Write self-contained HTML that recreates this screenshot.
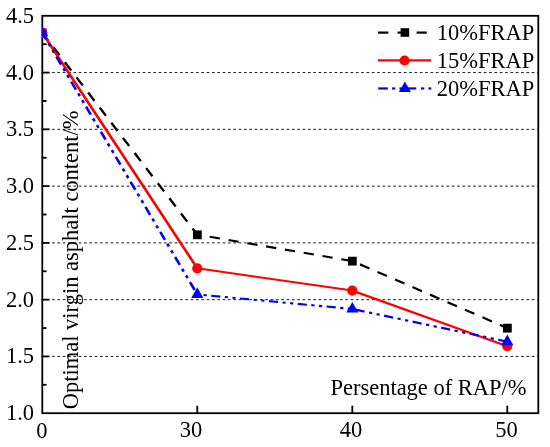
<!DOCTYPE html>
<html lang="en"><head><meta charset="utf-8"><title>Optimal virgin asphalt content</title>
<style>html,body{margin:0;padding:0;background:#fff}body{width:550px;height:447px;overflow:hidden}svg{display:block}text{font-family:"Liberation Serif","Times New Roman",serif;font-size:22.5px;fill:#000}</style></head><body>
<svg width="550" height="447" viewBox="0 0 550 447">
<rect width="550" height="447" fill="#fff"/>
<line x1="41.40" y1="72.57" x2="538.30" y2="72.57" stroke="#1a1a1a" stroke-width="1" stroke-dasharray="2.7 2.63"/>
<line x1="41.40" y1="129.34" x2="538.30" y2="129.34" stroke="#1a1a1a" stroke-width="1" stroke-dasharray="2.7 2.63"/>
<line x1="41.40" y1="186.11" x2="538.30" y2="186.11" stroke="#1a1a1a" stroke-width="1" stroke-dasharray="2.7 2.63"/>
<line x1="41.40" y1="242.89" x2="538.30" y2="242.89" stroke="#1a1a1a" stroke-width="1" stroke-dasharray="2.7 2.63"/>
<line x1="41.40" y1="299.66" x2="538.30" y2="299.66" stroke="#1a1a1a" stroke-width="1" stroke-dasharray="2.7 2.63"/>
<line x1="41.40" y1="356.43" x2="538.30" y2="356.43" stroke="#1a1a1a" stroke-width="1" stroke-dasharray="2.7 2.63"/>
<rect x="42.30" y="15.80" width="496.00" height="397.40" fill="none" stroke="#000" stroke-width="1.8"/>
<line x1="42.30" y1="72.57" x2="49.50" y2="72.57" stroke="#000" stroke-width="1.8"/>
<line x1="42.30" y1="129.34" x2="49.50" y2="129.34" stroke="#000" stroke-width="1.8"/>
<line x1="42.30" y1="186.11" x2="49.50" y2="186.11" stroke="#000" stroke-width="1.8"/>
<line x1="42.30" y1="242.89" x2="49.50" y2="242.89" stroke="#000" stroke-width="1.8"/>
<line x1="42.30" y1="299.66" x2="49.50" y2="299.66" stroke="#000" stroke-width="1.8"/>
<line x1="42.30" y1="356.43" x2="49.50" y2="356.43" stroke="#000" stroke-width="1.8"/>
<line x1="42.30" y1="44.19" x2="46.60" y2="44.19" stroke="#000" stroke-width="1.8"/>
<line x1="42.30" y1="100.96" x2="46.60" y2="100.96" stroke="#000" stroke-width="1.8"/>
<line x1="42.30" y1="157.73" x2="46.60" y2="157.73" stroke="#000" stroke-width="1.8"/>
<line x1="42.30" y1="214.50" x2="46.60" y2="214.50" stroke="#000" stroke-width="1.8"/>
<line x1="42.30" y1="271.27" x2="46.60" y2="271.27" stroke="#000" stroke-width="1.8"/>
<line x1="42.30" y1="328.04" x2="46.60" y2="328.04" stroke="#000" stroke-width="1.8"/>
<line x1="42.30" y1="384.81" x2="46.60" y2="384.81" stroke="#000" stroke-width="1.8"/>
<line x1="197.30" y1="413.20" x2="197.30" y2="405.70" stroke="#000" stroke-width="1.8"/>
<line x1="352.30" y1="413.20" x2="352.30" y2="405.70" stroke="#000" stroke-width="1.8"/>
<line x1="507.30" y1="413.20" x2="507.30" y2="405.70" stroke="#000" stroke-width="1.8"/>
<defs><clipPath id="c"><rect x="42.10" y="15.80" width="516.00" height="397.40"/></clipPath></defs>
<g clip-path="url(#c)">
<line x1="42.30" y1="32.83" x2="197.30" y2="234.71" stroke="#000" stroke-width="2.35" stroke-dasharray="10.3 8.76" stroke-dashoffset="1.00"/>
<line x1="197.30" y1="234.71" x2="352.30" y2="261.05" stroke="#000" stroke-width="2.1" stroke-dasharray="10.3 8.76" stroke-dashoffset="6.46"/>
<line x1="352.30" y1="261.05" x2="507.30" y2="328.04" stroke="#000" stroke-width="2.2" stroke-dasharray="10.3 8.76" stroke-dashoffset="10.66"/>
<rect x="37.95" y="28.53" width="8.8" height="8.8" fill="#000"/>
<rect x="192.95" y="230.41" width="8.8" height="8.8" fill="#000"/>
<rect x="347.95" y="256.75" width="8.8" height="8.8" fill="#000"/>
<rect x="502.95" y="323.74" width="8.8" height="8.8" fill="#000"/>
<line x1="42.30" y1="32.83" x2="197.30" y2="268.32" stroke="#ff0000" stroke-width="2.6" stroke-linecap="round"/>
<line x1="197.30" y1="268.32" x2="352.30" y2="290.57" stroke="#ff0000" stroke-width="2.1" stroke-linecap="round"/>
<line x1="352.30" y1="290.57" x2="507.30" y2="346.21" stroke="#ff0000" stroke-width="2.25" stroke-linecap="round"/>
<circle cx="42.30" cy="32.83" r="5.1" fill="#ff0000"/>
<circle cx="197.30" cy="268.32" r="5.1" fill="#ff0000"/>
<circle cx="352.30" cy="290.57" r="5.1" fill="#ff0000"/>
<circle cx="507.30" cy="346.21" r="5.1" fill="#ff0000"/>
<line x1="42.30" y1="32.83" x2="197.30" y2="294.43" stroke="#0000ff" stroke-width="2.6" stroke-dasharray="9.2 4.507 3.2 4.507 3.2 4.507" stroke-dashoffset="1.52"/>
<line x1="197.30" y1="294.43" x2="352.30" y2="308.97" stroke="#0000ff" stroke-width="2.1" stroke-dasharray="9.2 4.457 3.2 4.457 3.2 4.457" stroke-dashoffset="15.01"/>
<line x1="352.30" y1="308.97" x2="507.30" y2="341.67" stroke="#0000ff" stroke-width="2.25" stroke-dasharray="9.2 4.517 3.2 4.517 3.2 4.517" stroke-dashoffset="25.80"/>
<polygon points="42.30,25.76 36.25,36.36 48.35,36.36" fill="#0000ff"/>
<polygon points="197.30,287.36 191.25,297.96 203.35,297.96" fill="#0000ff"/>
<polygon points="352.30,301.90 346.25,312.50 358.35,312.50" fill="#0000ff"/>
<polygon points="507.30,334.60 501.25,345.20 513.35,345.20" fill="#0000ff"/>
</g>
<text x="34.0" y="22.80" text-anchor="end">4.5</text>
<text x="34.0" y="79.57" text-anchor="end">4.0</text>
<text x="34.0" y="136.34" text-anchor="end">3.5</text>
<text x="34.0" y="193.11" text-anchor="end">3.0</text>
<text x="34.0" y="249.89" text-anchor="end">2.5</text>
<text x="34.0" y="306.66" text-anchor="end">2.0</text>
<text x="34.0" y="363.43" text-anchor="end">1.5</text>
<text x="34.0" y="420.20" text-anchor="end">1.0</text>
<text x="41.80" y="437.8" text-anchor="middle">0</text>
<text x="191.10" y="437.3" text-anchor="middle">30</text>
<text x="350.90" y="437.1" text-anchor="middle">40</text>
<text x="506.60" y="436.8" text-anchor="middle">50</text>
<text x="330.4" y="395.1">Persentage of RAP/%</text>
<text transform="translate(78.3,409.3) rotate(-90)">Optimal virgin asphalt content/%</text>
<line x1="378" y1="32.60" x2="388.4" y2="32.60" stroke="#000" stroke-width="2.2"/>
<line x1="397.6" y1="32.60" x2="405" y2="32.60" stroke="#000" stroke-width="2.2"/>
<line x1="416.6" y1="32.60" x2="426.8" y2="32.60" stroke="#000" stroke-width="2.2"/>
<rect x="400.60" y="28.20" width="8.6" height="8.6" fill="#000"/>
<line x1="378" y1="60.30" x2="431.2" y2="60.30" stroke="#ff0000" stroke-width="2.2"/>
<circle cx="404.6" cy="60.50" r="5.1" fill="#ff0000"/>
<line x1="378.20" y1="88.45" x2="387.80" y2="88.45" stroke="#0000ff" stroke-width="2.2"/>
<line x1="392.10" y1="88.45" x2="395.20" y2="88.45" stroke="#0000ff" stroke-width="2.2"/>
<line x1="399.50" y1="88.45" x2="401.80" y2="88.45" stroke="#0000ff" stroke-width="2.2"/>
<line x1="406.70" y1="88.45" x2="416.20" y2="88.45" stroke="#0000ff" stroke-width="2.2"/>
<line x1="421.00" y1="88.45" x2="424.20" y2="88.45" stroke="#0000ff" stroke-width="2.2"/>
<line x1="428.40" y1="88.45" x2="431.30" y2="88.45" stroke="#0000ff" stroke-width="2.2"/>
<polygon points="404.90,81.38 398.85,91.98 410.95,91.98" fill="#0000ff"/>
<text x="436.7" y="40.30">10%FRAP</text>
<text x="436.7" y="68.00">15%FRAP</text>
<text x="436.7" y="96.30">20%FRAP</text>
</svg></body></html>
